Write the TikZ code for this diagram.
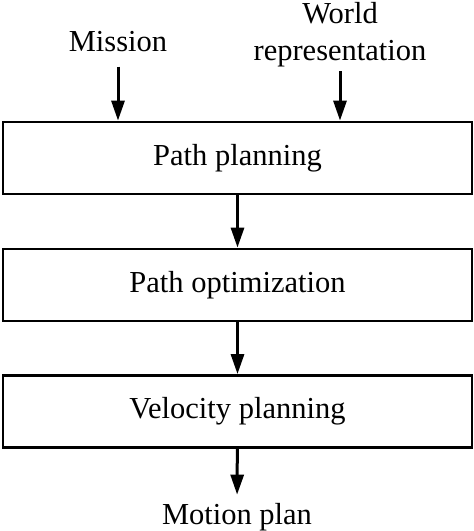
\documentclass[tikz,border=0pt]{standalone}
\usepackage{fontspec}
\setmainfont{Liberation Serif}
\usepackage{tikz}
\usetikzlibrary{arrows.meta,positioning,calc}
\tikzset{
  % processing stage box
  stagebox/.style={rectangle, draw=black, line width=2.8pt, minimum width=469pt, minimum height=72pt,
                   inner sep=0pt, font=\fontsize{30.5}{36.5}\selectfont},
  % input / output text
  iolabel/.style={inner sep=8pt, text depth=0.25em, align=center, font=\fontsize{30.5}{36.5}\selectfont},
  % flow arrow
  flowarrow/.style={-{Triangle[length=20pt,width=13pt]}, line width=3pt},
}
\begin{document}
\begin{tikzpicture}[x=1pt,y=-1pt]
  \useasboundingbox (0,0) rectangle (474,531);
  % inputs
  \node[iolabel, anchor=base] (mission) at (118,51) {Mission};
  \node[iolabel, anchor=south] (world) at (340,71) {World\\representation};
  % stages
  \node[stagebox] (plan) at (237.5,158) {Path planning};
  \node[stagebox] (opt) at (237.5,285) {Path optimization};
  \node[stagebox] (vel) at (237.5,411.5) {Velocity planning};
  % output
  \node[iolabel, anchor=base] (motion) at (237,524) {Motion plan};
  % arrows
  \draw[flowarrow, shorten <=5pt] (mission.south) -- (mission.south |- plan.north);
  \draw[flowarrow] (world.south) -- (world.south |- plan.north);
  \draw[flowarrow] (plan) -- (opt);
  \draw[flowarrow] (opt) -- (vel);
  \draw[flowarrow] (vel) -- (motion);
\end{tikzpicture}
\end{document}
